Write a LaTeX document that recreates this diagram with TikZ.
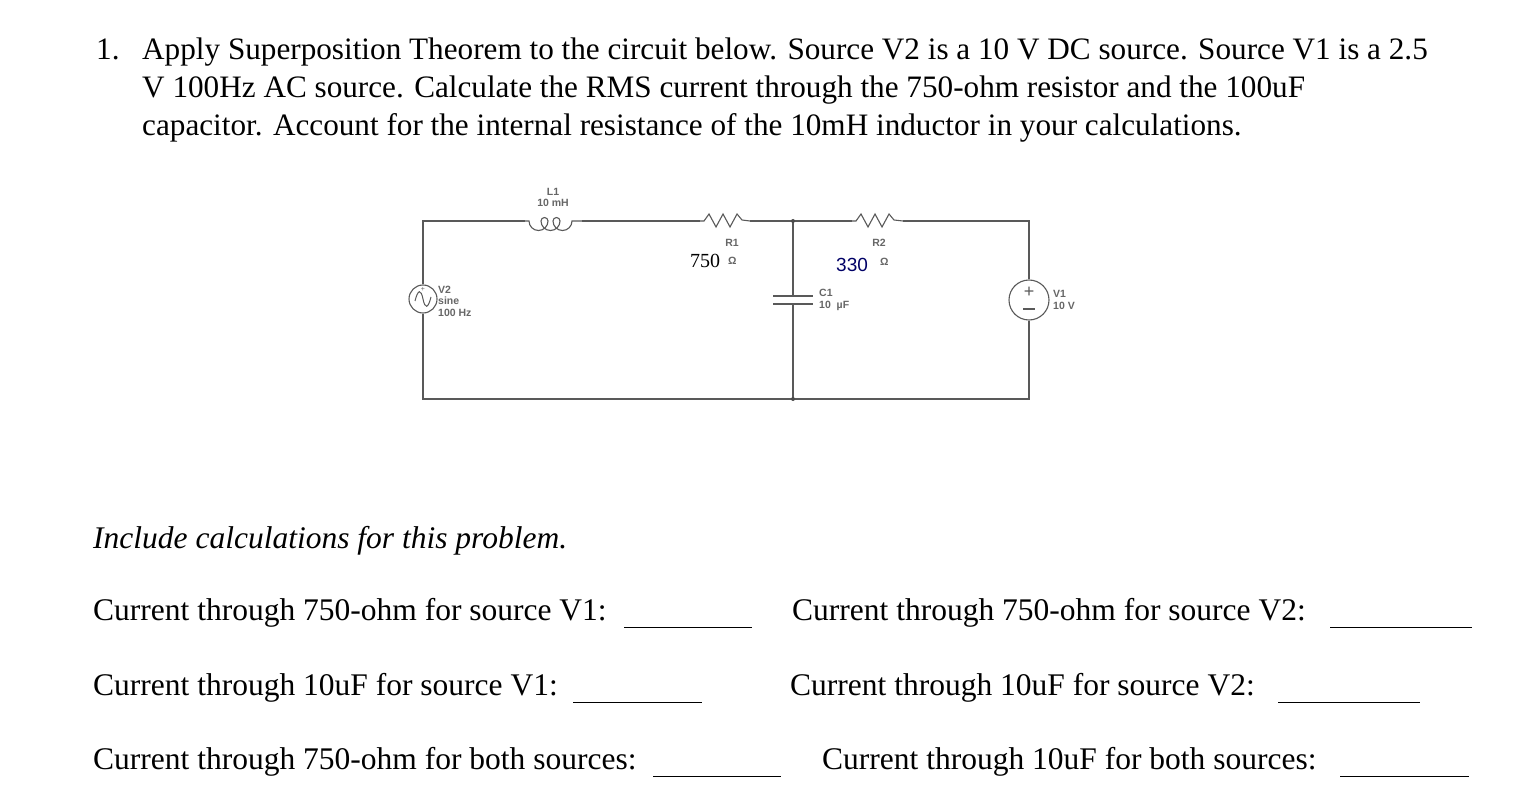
\documentclass[tikz,border=0pt]{standalone}
\usepackage{fontspec}
\setmainfont{Liberation Serif}
\newfontfamily\lsans{Liberation Sans}
\begin{document}
\begin{tikzpicture}[x=1pt,y=-1pt,
  wire/.style={draw=black!65,line width=1.1pt},
  ttl/.style={anchor=base west,inner sep=0,font=\fontsize{31.2}{34}\selectfont},
  qtxt/.style={anchor=base west,inner sep=0,font=\fontsize{31.5}{34}\selectfont},
  blank/.style={draw,line width=0.9pt},
  lbl/.style={anchor=west,inner sep=0,font=\lsans\bfseries\fontsize{10.5}{11.5}\selectfont,text=black!60,align=left},
  dotj/.style={circle,fill=black!70,inner sep=0,minimum size=4pt}]
\useasboundingbox (0,0) rectangle (1538,794);
% title
\node[ttl] (n1) at (96,60) {1.};
\node[ttl] (t1) at (142,60) {Apply Superposition Theorem to the circuit below. Source V2 is a 10 V DC source. Source V1 is a 2.5};
\node[ttl] (t2) at (142,98) {V 100Hz AC source. Calculate the RMS current through the 750-ohm resistor and the 100uF};
\node[ttl] (t3) at (142,136) {capacitor. Account for the internal resistance of the 10mH inductor in your calculations.};
% circuit coordinates
\coordinate (TL) at (423,221);
\coordinate (BL) at (423,399);
\coordinate (TM) at (793,221);
\coordinate (BM) at (793,399);
\coordinate (TR) at (1029,221);
\coordinate (BR) at (1029,399);
\node[circle,draw=black!65,line width=1.1pt,minimum size=28pt,inner sep=0] (V2) at (423,299) {};
\node[circle,draw=black!65,line width=1.1pt,minimum size=40pt,inner sep=0] (V1) at (1029,300) {};
\coordinate (La) at (525,221); \coordinate (Lb) at (582,221);
\coordinate (R1a) at (700,221); \coordinate (R1b) at (750,221);
\coordinate (R2a) at (852,221); \coordinate (R2b) at (903,221);
\coordinate (Ca) at (793,296); \coordinate (Cb) at (793,304);
% wires
\draw[wire] (V2.north) -- (TL) -- (La);
\draw[wire] (Lb) -- (R1a);
\draw[wire] (R1b) -- (TM) -- (R2a);
\draw[wire] (R2b) -- (TR) -- (V1.north);
\draw[wire] (V1.south) -- (BR) -- (BL) -- (V2.south);
\draw[wire] (TM) -- (Ca); \draw[wire] (Cb) -- (BM);
% inductor
\draw[wire] (La) -- ++(4,0) arc[start angle=180,end angle=0,radius=9.5] arc[start angle=0,end angle=-180,radius=3.5]
  arc[start angle=180,end angle=0,radius=9.5] arc[start angle=0,end angle=-180,radius=3.5]
  arc[start angle=180,end angle=0,radius=9.5] -- (Lb);
% resistors
\draw[wire] (R1a) -- ++(4,0) -- ++(5,-7) -- ++(7,13) -- ++(7,-13) -- ++(7,13) -- ++(7,-13) -- ++(5,6) -- (R1b);
\draw[wire] (R2a) -- ++(4,0) -- ++(5,-7) -- ++(7,13) -- ++(7,-13) -- ++(7,13) -- ++(7,-13) -- ++(5,6) -- (R2b);
% capacitor plates
\draw[wire] (773,296) -- (813,296);
\draw[wire] (773,304) -- (813,304);
% junction dots
\node[dotj] (j1) at (TM) {}; \node[dotj] (j2) at (BM) {};
% source symbols
\draw[black!65,line width=1pt] (415,301) .. controls (418,289) and (421,289) .. (423,299) .. controls (425,309) and (428,309) .. (431,297);
\node[inner sep=0,font=\lsans\fontsize{7}{7}\selectfont,text=black!60] (v2p) at (423,289) {+};
\node[inner sep=0,font=\lsans\fontsize{18}{18}\selectfont,text=black!65] (v1p) at (1029,292) {+};
\draw[black!65,line width=1.1pt] (1023,309) -- (1035,309);
% labels
\node[lbl,anchor=south,align=center] (lL) at (553,207) {L1\\10 mH};
\node[lbl,anchor=north] (lR1) at (732,239) {R1};
\node[inner sep=0,anchor=base west,font=\fontsize{20}{20}\selectfont] (v750) at (690,268) {750};
\node[lbl] (ohm1) at (728,261) {Ω};
\node[lbl,anchor=north] (lR2) at (879,239) {R2};
\node[inner sep=0,anchor=base west,font=\lsans\fontsize{19}{19}\selectfont,text=blue!40!black] (v330) at (836,272) {330};
\node[lbl] (ohm2) at (880,262) {Ω};
\node[lbl] (lC) at (819,300) {C1\\10\ \ µF};
\node[lbl] (lV2) at (438,301) {V2\\sine\\100 Hz};
\node[lbl] (lV1) at (1053,300) {V1\\10 V};
% questions
\node[anchor=base west,inner sep=0,font=\itshape\fontsize{31.5}{34}\selectfont] (inc) at (93,548) {Include calculations for this problem.};
\node[qtxt] (q1) at (93,620) {Current through 750-ohm for source V1:};
\draw[blank] (624,627) -- (752,627);
\node[qtxt] (q2) at (792,620) {Current through 750-ohm for source V2:};
\draw[blank] (1330,627) -- (1472,627);
\node[qtxt] (q3) at (93,695) {Current through 10uF for source V1:};
\draw[blank] (573,702) -- (702,702);
\node[qtxt] (q4) at (790,695) {Current through 10uF for source V2:};
\draw[blank] (1278,702) -- (1420,702);
\node[qtxt] (q5) at (93,769) {Current through 750-ohm for both sources:};
\draw[blank] (653,776) -- (781,776);
\node[qtxt] (q6) at (822,769) {Current through 10uF for both sources:};
\draw[blank] (1340,776) -- (1469,776);
\end{tikzpicture}
\end{document}
